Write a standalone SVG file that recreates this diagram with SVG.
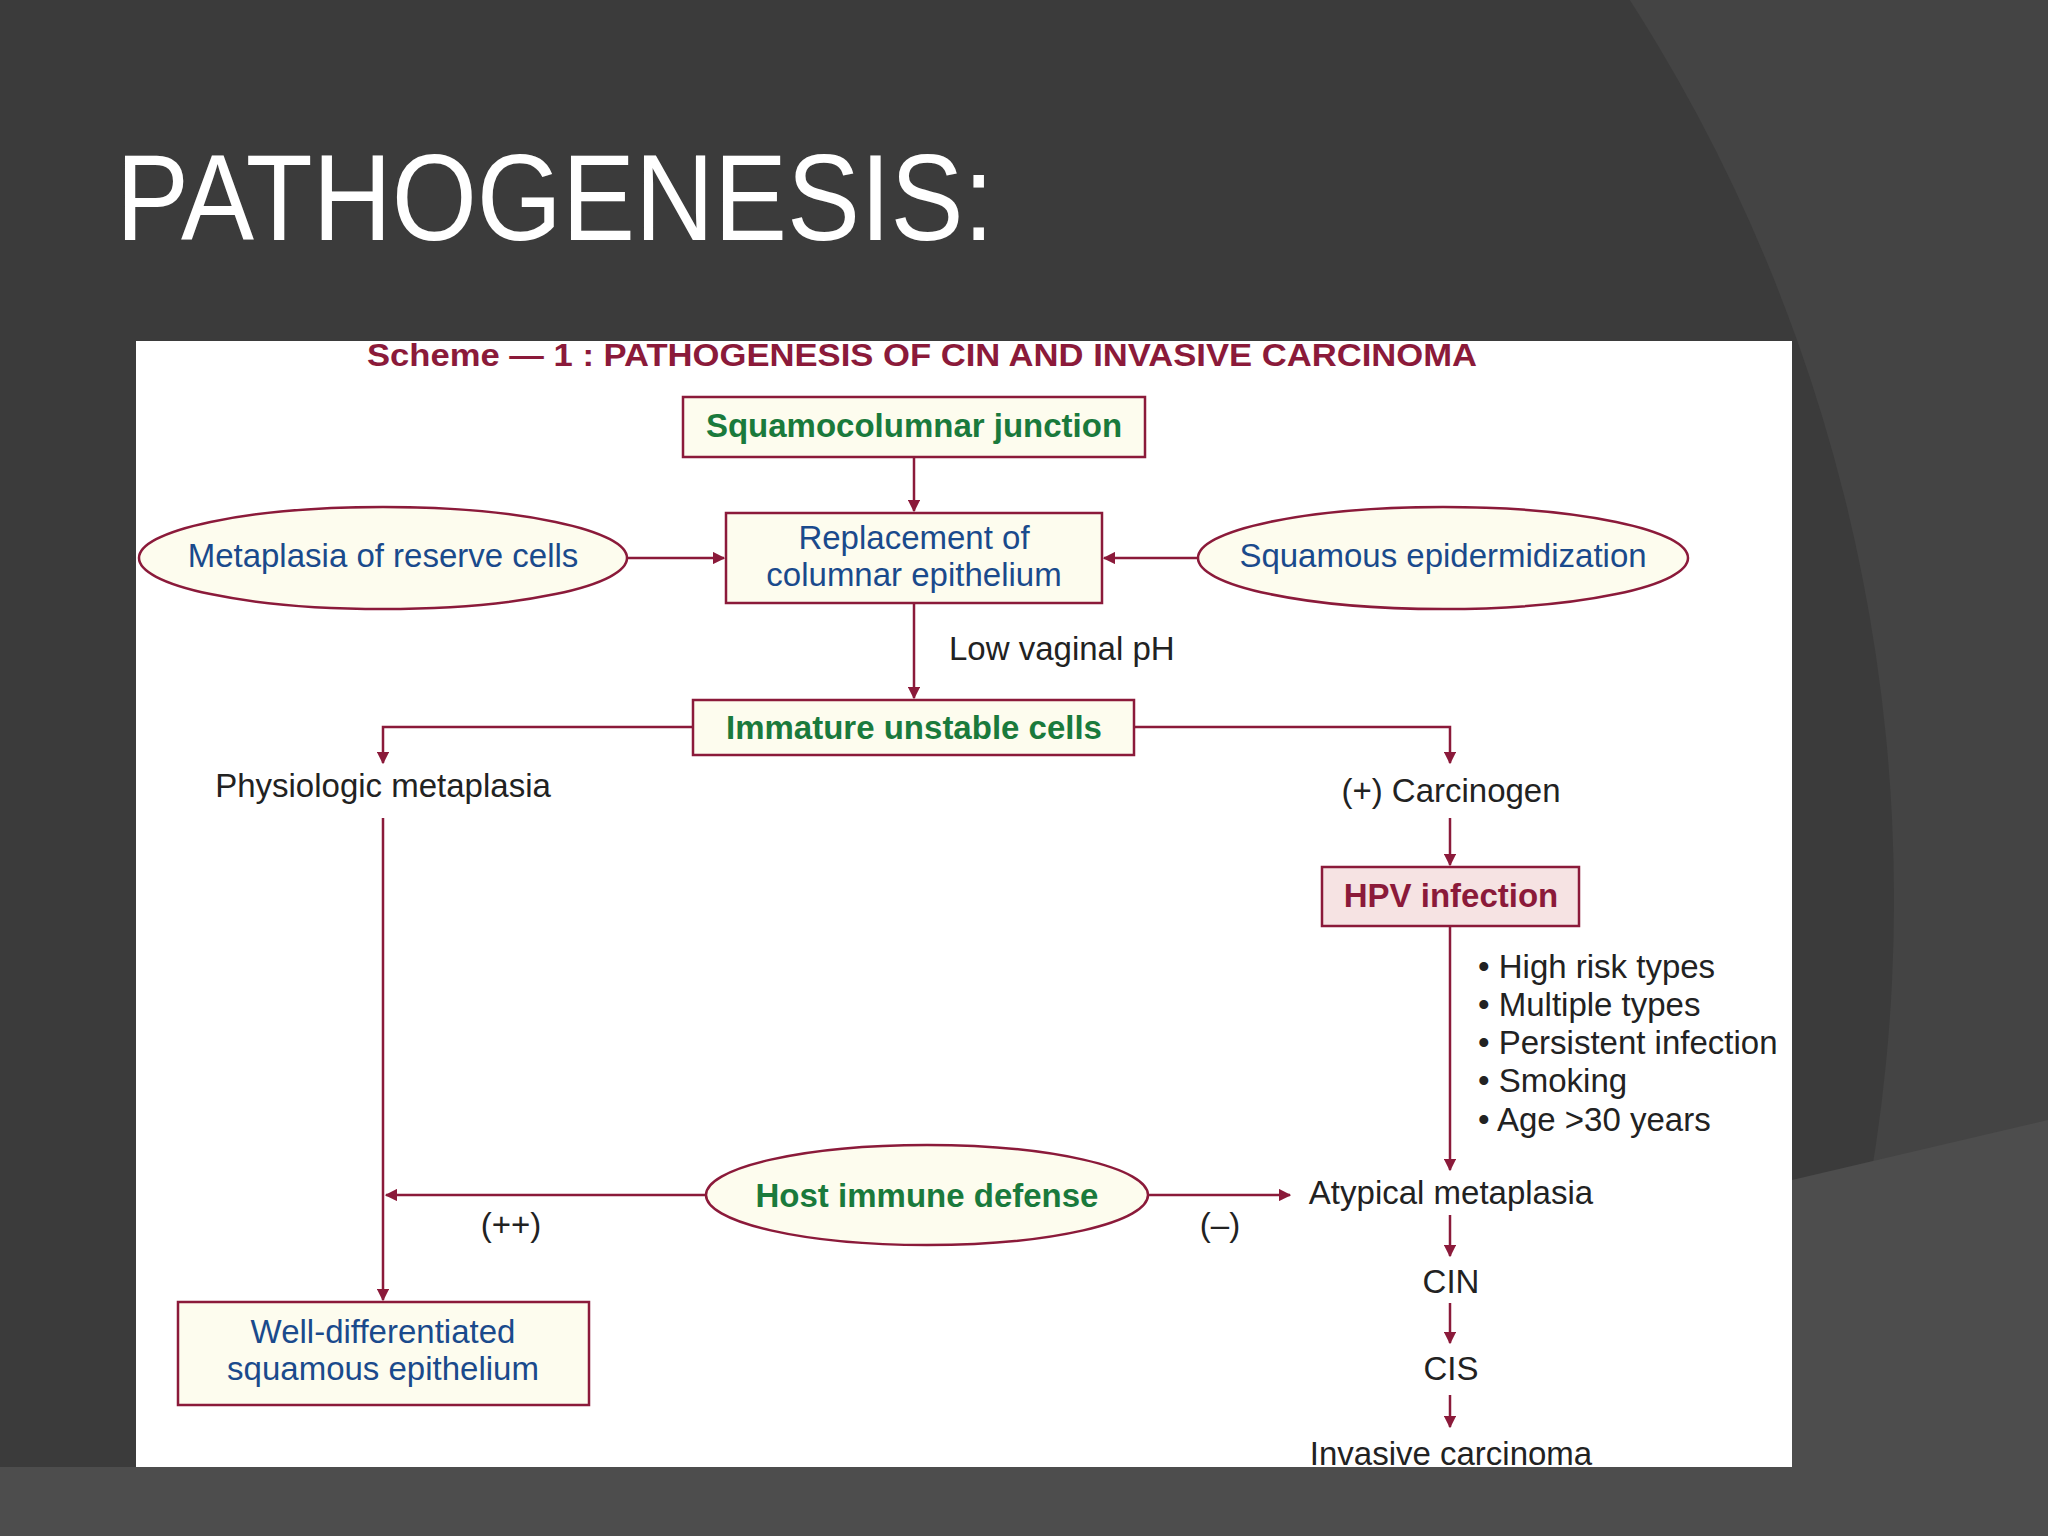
<svg xmlns="http://www.w3.org/2000/svg" width="2048" height="1536" viewBox="0 0 2048 1536">
<defs>
<style>
text{font-family:"Liberation Sans",Arial,sans-serif;}
.box{fill:#fdfcee;stroke:#8b1a3a;stroke-width:2.5}
.g{fill:#1a7a3c;font-weight:bold;font-size:33px;text-anchor:middle}
.b{fill:#1a4a8c;font-size:33px;text-anchor:middle}
.k{fill:#222;font-size:33px}
.m{text-anchor:middle}
.c path,.c line{stroke:#8b1a3a;stroke-width:2.5;fill:none}
</style>
<marker id="ah" viewBox="0 0 10 10" refX="9" refY="5" markerWidth="5" markerHeight="5" orient="auto"><path d="M0,0L10,5L0,10z" fill="#8b1a3a"/></marker>
</defs>
<rect width="2048" height="1536" fill="#444"/>
<circle cx="229" cy="900" r="1665" fill="#3b3b3b"/>
<path d="M1792 1180 L2048 1120 L2048 1536 L0 1536 L0 1467 L1792 1467z" fill="#4d4d4d"/>
<text x="116" y="240" font-size="122" fill="#fff" textLength="878" lengthAdjust="spacingAndGlyphs">PATHOGENESIS:</text>
<rect x="136" y="341" width="1656" height="1126" fill="#fff"/>
<text x="922" y="366" font-size="31" font-weight="bold" fill="#8b1a3a" text-anchor="middle" textLength="1110" lengthAdjust="spacingAndGlyphs">Scheme — 1 : PATHOGENESIS OF CIN AND INVASIVE CARCINOMA</text>
<g class="c">
<line x1="914" y1="457" x2="914" y2="511" marker-end="url(#ah)"/>
<line x1="627" y1="558" x2="724" y2="558" marker-end="url(#ah)"/>
<line x1="1198" y1="558" x2="1104" y2="558" marker-end="url(#ah)"/>
<line x1="914" y1="603" x2="914" y2="698" marker-end="url(#ah)"/>
<path d="M693 727H383V763" marker-end="url(#ah)"/>
<path d="M1134 727H1450V763" marker-end="url(#ah)"/>
<line x1="1450" y1="818" x2="1450" y2="865" marker-end="url(#ah)"/>
<line x1="1450" y1="926" x2="1450" y2="1170" marker-end="url(#ah)"/>
<line x1="383" y1="818" x2="383" y2="1300" marker-end="url(#ah)"/>
<line x1="706" y1="1195" x2="386" y2="1195" marker-end="url(#ah)"/>
<line x1="1148" y1="1195" x2="1290" y2="1195" marker-end="url(#ah)"/>
<line x1="1450" y1="1215" x2="1450" y2="1256" marker-end="url(#ah)"/>
<line x1="1450" y1="1303" x2="1450" y2="1343" marker-end="url(#ah)"/>
<line x1="1450" y1="1395" x2="1450" y2="1427" marker-end="url(#ah)"/>
</g>
<g id="scj"><rect class="box" x="683" y="397" width="462" height="60"/><text class="g" x="914" y="437">Squamocolumnar junction</text></g>
<g id="repl"><rect class="box" x="726" y="513" width="376" height="90"/><text class="b" x="914" y="549">Replacement of</text><text class="b" x="914" y="586">columnar epithelium</text></g>
<g id="meta"><ellipse class="box" cx="383" cy="558" rx="244" ry="51"/><text class="b" x="383" y="567">Metaplasia of reserve cells</text></g>
<g id="sqep"><ellipse class="box" cx="1443" cy="558" rx="245" ry="51"/><text class="b" x="1443" y="567">Squamous epidermidization</text></g>
<text class="k" x="949" y="660">Low vaginal pH</text>
<g id="imm"><rect class="box" x="693" y="700" width="441" height="55"/><text class="g" x="914" y="739">Immature unstable cells</text></g>
<text class="k m" x="383" y="797">Physiologic metaplasia</text>
<text class="k m" x="1451" y="802">(+) Carcinogen</text>
<g id="hpv"><rect x="1322" y="867" width="257" height="59" fill="#f6e3e3" stroke="#8b1a3a" stroke-width="2.5"/><text x="1451" y="907" font-size="33" font-weight="bold" fill="#8b1a3a" text-anchor="middle">HPV infection</text></g>
<g class="k"><text x="1478" y="978">• High risk types</text><text x="1478" y="1016">• Multiple types</text><text x="1478" y="1054">• Persistent infection</text><text x="1478" y="1092">• Smoking</text><text x="1478" y="1131">• Age &gt;30 years</text></g>
<g id="host"><ellipse class="box" cx="927" cy="1195" rx="221" ry="50"/><text class="g" x="927" y="1207">Host immune defense</text></g>
<text class="k m" x="511" y="1236">(++)</text>
<text class="k m" x="1220" y="1236">(–)</text>
<text class="k m" x="1451" y="1204">Atypical metaplasia</text>
<text class="k m" x="1451" y="1293">CIN</text>
<text class="k m" x="1451" y="1380">CIS</text>
<text class="k m" x="1451" y="1465">Invasive carcinoma</text>
<g id="well"><rect class="box" x="178" y="1302" width="411" height="103"/><text class="b" x="383" y="1343">Well-differentiated</text><text class="b" x="383" y="1380">squamous epithelium</text></g>
</svg>
